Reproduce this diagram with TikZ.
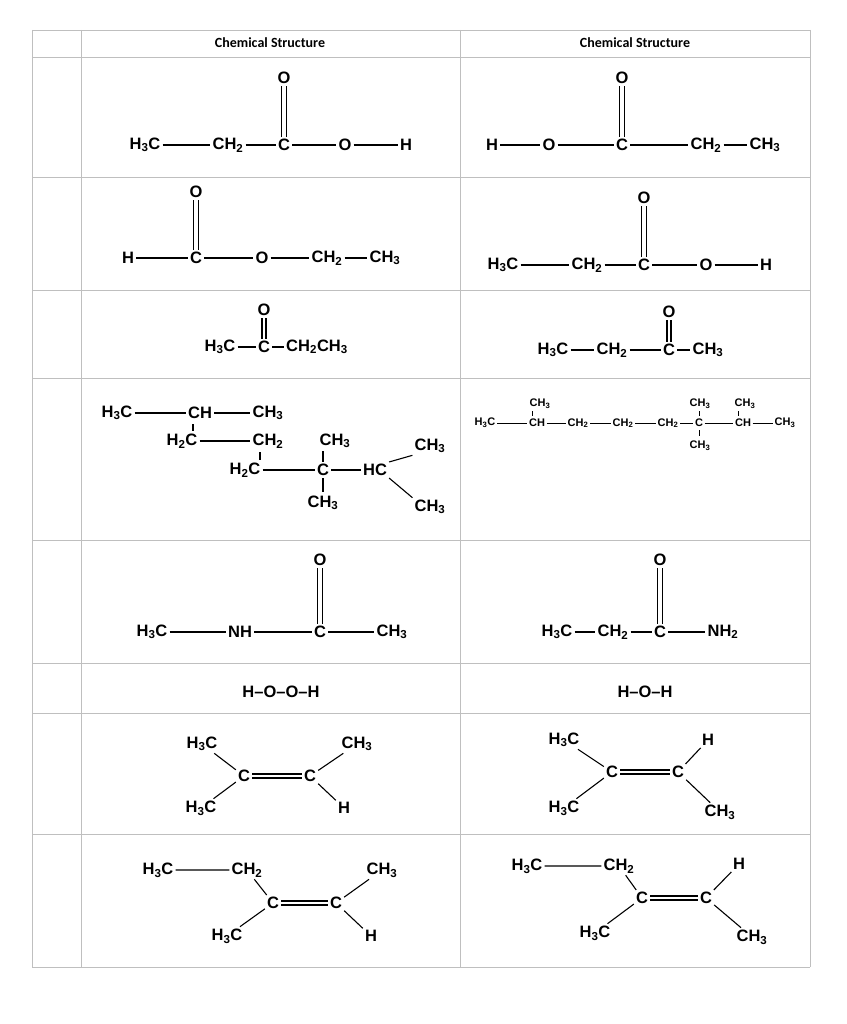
\documentclass[tikz,border=0pt]{standalone}
\usepackage{fontspec}
\setmainfont{Liberation Sans}
\newfontfamily\hdr{Carlito}
\newcommand\ssb[1]{\textsubscript{#1}}
\begin{document}
\begin{tikzpicture}[x=1pt,y=-1pt,
  atom/.style={font=\bfseries\fontsize{16.5}{16.5}\selectfont, inner sep=2pt},
  sm/.style={font=\bfseries\fontsize{11}{11}\selectfont, inner sep=1.5pt},
  hd/.style={font=\hdr\bfseries\fontsize{14}{14}\selectfont},
  bond/.style={line width=1.1pt},
  grid/.style={draw=gray!50, line width=0.8pt}]
\useasboundingbox (0,0) rectangle (846,1024);
% table
\foreach \y in {30,57,177,290,378,540,663,713,834,967} \draw[grid] (32,\y) -- (810,\y);
\foreach \x in {32,81,460,810} \draw[grid] (\x,30) -- (\x,967);
\node[hd] (h1) at (270,43) {Chemical Structure};
\node[hd] (h2) at (635,43) {Chemical Structure};
% row 1 left
\node[atom] (a1) at (145,145) {H\ssb{3}C};
\node[atom] (a2) at (228,145) {CH\ssb{2}};
\node[atom] (a3) at (284,145) {C};
\node[atom] (a4) at (345,145) {O};
\node[atom] (a5) at (406,145) {H};
\node[atom] (a6) at (284,78) {O};
\draw[bond] (a1)--(a2) (a2)--(a3) (a3)--(a4) (a4)--(a5);
\draw[bond] ([xshift=-2.5pt]a6.south)--([xshift=-2.5pt]a3.north) ([xshift=2.5pt]a6.south)--([xshift=2.5pt]a3.north);
% row 1 right
\node[atom] (b1) at (492,145) {H};
\node[atom] (b2) at (549,145) {O};
\node[atom] (b3) at (622,145) {C};
\node[atom] (b4) at (706,145) {CH\ssb{2}};
\node[atom] (b5) at (765,145) {CH\ssb{3}};
\node[atom] (b6) at (622,78) {O};
\draw[bond] (b1)--(b2) (b2)--(b3) (b3)--(b4) (b4)--(b5);
\draw[bond] ([xshift=-2.5pt]b6.south)--([xshift=-2.5pt]b3.north) ([xshift=2.5pt]b6.south)--([xshift=2.5pt]b3.north);
% row 2 left
\node[atom] (c1) at (128,258) {H};
\node[atom] (c2) at (196,258) {C};
\node[atom] (c3) at (262,258) {O};
\node[atom] (c4) at (327,258) {CH\ssb{2}};
\node[atom] (c5) at (385,258) {CH\ssb{3}};
\node[atom] (c6) at (196,192) {O};
\draw[bond] (c1)--(c2) (c2)--(c3) (c3)--(c4) (c4)--(c5);
\draw[bond] ([xshift=-2.5pt]c6.south)--([xshift=-2.5pt]c2.north) ([xshift=2.5pt]c6.south)--([xshift=2.5pt]c2.north);
% row 2 right
\node[atom] (d1) at (503,265) {H\ssb{3}C};
\node[atom] (d2) at (587,265) {CH\ssb{2}};
\node[atom] (d3) at (644,265) {C};
\node[atom] (d4) at (706,265) {O};
\node[atom] (d5) at (766,265) {H};
\node[atom] (d6) at (644,198) {O};
\draw[bond] (d1)--(d2) (d2)--(d3) (d3)--(d4) (d4)--(d5);
\draw[bond] ([xshift=-2.5pt]d6.south)--([xshift=-2.5pt]d3.north) ([xshift=2.5pt]d6.south)--([xshift=2.5pt]d3.north);
% row 3 left
\node[atom] (e1) at (220,347) {H\ssb{3}C};
\node[atom] (e2) at (264,347) {C};
\node[atom] (e3) at (317,347) {CH\ssb{2}CH\ssb{3}};
\node[atom] (e4) at (264,310) {O};
\draw[bond] (e1)--(e2) (e2)--(e3);
\draw[bond] ([xshift=-2pt]e4.south)--([xshift=-2pt]e2.north) ([xshift=2pt]e4.south)--([xshift=2pt]e2.north);
% row 3 right
\node[atom] (f1) at (553,350) {H\ssb{3}C};
\node[atom] (f2) at (612,350) {CH\ssb{2}};
\node[atom] (f3) at (669,350) {C};
\node[atom] (f4) at (708,350) {CH\ssb{3}};
\node[atom] (f5) at (669,312) {O};
\draw[bond] (f1)--(f2) (f2)--(f3) (f3)--(f4);
\draw[bond] ([xshift=-2pt]f5.south)--([xshift=-2pt]f3.north) ([xshift=2pt]f5.south)--([xshift=2pt]f3.north);
% row 4 left
\node[atom] (g1) at (117,413) {H\ssb{3}C};
\node[atom] (g2) at (200,413) {CH};
\node[atom] (g3) at (268,413) {CH\ssb{3}};
\node[atom] (g4) at (182,441) {H\ssb{2}C};
\node[atom] (g5) at (268,441) {CH\ssb{2}};
\node[atom] (g6) at (335,441) {CH\ssb{3}};
\node[atom] (g7) at (245,470) {H\ssb{2}C};
\node[atom] (g8) at (323,470) {C};
\node[atom] (g9) at (375,470) {HC};
\node[atom] (g10) at (323,503) {CH\ssb{3}};
\node[atom] (g11) at (430,446) {CH\ssb{3}};
\node[atom] (g12) at (430,507) {CH\ssb{3}};
\draw[bond] (g1)--(g2) (g2)--(g3) (g4)--(g5) (g7)--(g8) (g8)--(g9);
\draw[bond] (193,424)--(193,431) (260,452)--(260,460) (323,451)--(g8.north) (g8.south)--(323,492);
\draw[bond] (g9.north east)--(g11.south west) (g9.south east)--(g12.north west);
% row 4 right
\node[sm] (k1) at (485,423) {H\ssb{3}C};
\node[sm] (k2) at (537,423) {CH};
\node[sm] (k3) at (578,423) {CH\ssb{2}};
\node[sm] (k4) at (623,423) {CH\ssb{2}};
\node[sm] (k5) at (668,423) {CH\ssb{2}};
\node[sm] (k6) at (699,423) {C};
\node[sm] (k7) at (743,423) {CH};
\node[sm] (k8) at (785,423) {CH\ssb{3}};
\node[sm] (k9) at (540,404) {CH\ssb{3}};
\node[sm] (k10) at (700,404) {CH\ssb{3}};
\node[sm] (k11) at (745,404) {CH\ssb{3}};
\node[sm] (k12) at (700,446) {CH\ssb{3}};
\draw[bond, line width=0.8pt] (k1)--(k2) (k2)--(k3) (k3)--(k4) (k4)--(k5) (k5)--(k6) (k6)--(k7) (k7)--(k8);
\draw[bond, line width=0.8pt] (532,411)--(532,416) (699,411)--(699,416) (699,430)--(699,436) (738,411)--(738,416);
% row 5 left
\node[atom] (m1) at (152,632) {H\ssb{3}C};
\node[atom] (m2) at (240,632) {NH};
\node[atom] (m3) at (320,632) {C};
\node[atom] (m4) at (392,632) {CH\ssb{3}};
\node[atom] (m5) at (320,560) {O};
\draw[bond] (m1)--(m2) (m2)--(m3) (m3)--(m4);
\draw[bond] ([xshift=-2.5pt]m5.south)--([xshift=-2.5pt]m3.north) ([xshift=2.5pt]m5.south)--([xshift=2.5pt]m3.north);
% row 5 right
\node[atom] (n1) at (557,632) {H\ssb{3}C};
\node[atom] (n2) at (613,632) {CH\ssb{2}};
\node[atom] (n3) at (660,632) {C};
\node[atom] (n4) at (723,632) {NH\ssb{2}};
\node[atom] (n5) at (660,560) {O};
\draw[bond] (n1)--(n2) (n2)--(n3) (n3)--(n4);
\draw[bond] ([xshift=-2.5pt]n5.south)--([xshift=-2.5pt]n3.north) ([xshift=2.5pt]n5.south)--([xshift=2.5pt]n3.north);
% row 6
\node[atom] (p1) at (281,692) {H\textendash O\textendash O\textendash H};
\node[atom] (p2) at (645,692) {H\textendash O\textendash H};
% row 7 left
\node[atom] (q1) at (202,744) {H\ssb{3}C};
\node[atom] (q2) at (357,744) {CH\ssb{3}};
\node[atom] (q3) at (244,776) {C};
\node[atom] (q4) at (310,776) {C};
\node[atom] (q5) at (201,808) {H\ssb{3}C};
\node[atom] (q6) at (344,808) {H};
\draw[bond] (q1)--(q3) (q5)--(q3) (q4)--(q2) (q4)--(q6);
\draw[bond] ([yshift=-2pt]q3.east)--([yshift=-2pt]q4.west) ([yshift=2pt]q3.east)--([yshift=2pt]q4.west);
% row 7 right
\node[atom] (r1) at (564,740) {H\ssb{3}C};
\node[atom] (r2) at (708,740) {H};
\node[atom] (r3) at (612,772) {C};
\node[atom] (r4) at (678,772) {C};
\node[atom] (r5) at (564,808) {H\ssb{3}C};
\node[atom] (r6) at (720,812) {CH\ssb{3}};
\draw[bond] (r1)--(r3) (r5)--(r3) (r4)--(r2) (r4)--(r6);
\draw[bond] ([yshift=-2pt]r3.east)--([yshift=-2pt]r4.west) ([yshift=2pt]r3.east)--([yshift=2pt]r4.west);
% row 8 left
\node[atom] (s1) at (158,870) {H\ssb{3}C};
\node[atom] (s2) at (247,870) {CH\ssb{2}};
\node[atom] (s3) at (273,903) {C};
\node[atom] (s4) at (336,903) {C};
\node[atom] (s5) at (382,870) {CH\ssb{3}};
\node[atom] (s6) at (227,936) {H\ssb{3}C};
\node[atom] (s7) at (371,936) {H};
\draw[bond] (s1)--(s2) (s2)--(s3) (s6)--(s3) (s4)--(s5) (s4)--(s7);
\draw[bond] ([yshift=-2pt]s3.east)--([yshift=-2pt]s4.west) ([yshift=2pt]s3.east)--([yshift=2pt]s4.west);
% row 8 right
\node[atom] (t1) at (527,866) {H\ssb{3}C};
\node[atom] (t2) at (619,866) {CH\ssb{2}};
\node[atom] (t3) at (642,898) {C};
\node[atom] (t4) at (706,898) {C};
\node[atom] (t5) at (739,864) {H};
\node[atom] (t6) at (595,933) {H\ssb{3}C};
\node[atom] (t7) at (752,937) {CH\ssb{3}};
\draw[bond] (t1)--(t2) (t2)--(t3) (t6)--(t3) (t4)--(t5) (t4)--(t7);
\draw[bond] ([yshift=-2pt]t3.east)--([yshift=-2pt]t4.west) ([yshift=2pt]t3.east)--([yshift=2pt]t4.west);
\end{tikzpicture}
\end{document}
